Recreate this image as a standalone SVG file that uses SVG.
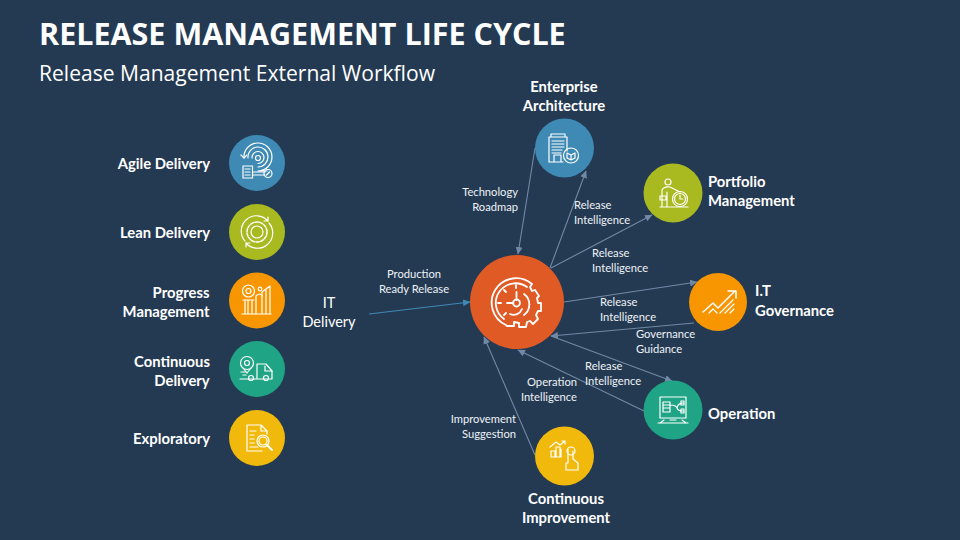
<svg xmlns="http://www.w3.org/2000/svg" width="960" height="540" viewBox="0 0 960 540">
<style>
.t{font-family:"Lato","Carlito","Liberation Sans",sans-serif;fill:#fff}
.h{font-family:"Open Sans","Liberation Sans",sans-serif;fill:#fff}
.b{font-size:14.800px;font-weight:700}
.s{font-size:11.200px;fill:#eef2f6}
.m{text-anchor:middle}.e{text-anchor:end}
.c{stroke:#7189a6;stroke-width:1.1;fill:none;marker-end:url(#a)}
.i{fill:none;stroke:#fff;stroke-width:1.2;stroke-linecap:round;stroke-linejoin:round}
</style>
<defs>
<marker id="a" markerWidth="8" markerHeight="8" refX="7" refY="4" orient="auto" markerUnits="userSpaceOnUse"><path d="M0 0.500L7.500 4L0 7.500Z" fill="#7189a6"/></marker>
<marker id="a2" markerWidth="8" markerHeight="8" refX="7" refY="4" orient="auto" markerUnits="userSpaceOnUse"><path d="M0 0.500L7.500 4L0 7.500Z" fill="#3f8ab5"/></marker>
</defs>
<rect width="960" height="540" fill="#243a53"/>
<text class="h" x="39" y="45" font-size="30.500" font-weight="700">RELEASE MANAGEMENT LIFE CYCLE</text>
<text class="h" x="39" y="81" font-size="21" textLength="396" lengthAdjust="spacingAndGlyphs">Release Management External Workflow</text>

<g id="connectors">
<path d="M369 314L470 302" stroke="#3f8ab5" stroke-width="1.100" fill="none" marker-end="url(#a2)"/>
<path class="c" d="M535 148L518 254"/>
<path class="c" d="M550 268L586 171"/>
<path class="c" d="M551 268L652 215"/>
<path class="c" d="M564 302L697 282"/>
<path class="c" d="M694 323L551 336"/>
<path class="c" d="M551 336L672 381"/>
<path class="c" d="M644 411L518 350"/>
<path class="c" d="M535 455L484 337"/>
</g>

<g id="agile">
<circle cx="257" cy="163" r="28" fill="#3f8ab5"/>
<text class="t b e" x="210" y="169">Agile Delivery</text>
<g class="i"><path d="M244 158A14 14 0 1 1 258 171H267"/><path d="M248 158A10 10 0 1 1 258 167"/><path d="M252 158A6 6 0 1 1 258 163.500"/><circle cx="258" cy="158" r="2.500"/><path d="M244 158L241 155M244 158L247 155"/><rect x="243" y="166" width="9.500" height="12"/><path d="M245 169H250M245 172H250M245 175H250M253 172H265M253 175H265"/><circle cx="268" cy="173.500" r="4"/><path d="M266.500 175L269.500 172"/></g>
</g>
<g id="lean">
<circle cx="257" cy="232" r="28" fill="#a9b920"/>
<text class="t b e" x="210" y="238">Lean Delivery</text>
<g class="i"><path d="M245 241A14.500 14.500 0 0 1 268 221M268 217V221H264"/><path d="M269 223A14.500 14.500 0 0 1 246 243M246 247V243H250"/><circle cx="257" cy="232" r="10" stroke-dasharray="3 1.500" stroke-width="1.500"/><circle cx="257" cy="232" r="6"/></g>
</g>
<g id="progress">
<circle cx="257" cy="300.500" r="28" fill="#f79600"/>
<text class="t b m" x="181" y="298">Progress</text>
<text class="t b m" x="166" y="317">Management</text>
<g class="i"><circle cx="248.500" cy="291" r="6"/><circle cx="248.500" cy="291" r="2.500"/><path d="M243 300H254M245 300V314M248 300V314M252 300V314M242 314H271M270 286L262 292V314M270 286V314M266 290V314"/><circle cx="260" cy="289" r="1.800"/><path d="M256 314V296Q260 292 262 296"/></g>
</g>
<g id="continuous">
<circle cx="257" cy="369" r="28" fill="#1fa585"/>
<text class="t b m" x="172" y="367">Continuous</text>
<text class="t b m" x="182" y="386">Delivery</text>
<g class="i"><circle cx="247" cy="363" r="6.500"/><circle cx="247" cy="363" r="2.500"/><path d="M247 373L243 368M247 373L251 368M257 364H266L272 371V379H240M257 364V378M241 372H245M243 375H246"/><path d="M265 366V371H272"/><circle cx="251" cy="378" r="2.500"/><circle cx="266" cy="378" r="2.500"/></g>
</g>
<g id="exploratory">
<circle cx="257" cy="438" r="28" fill="#f0b90b"/>
<text class="t b e" x="210" y="444">Exploratory</text>
<g class="i"><path d="M267 434V431L261 425H247V451H262M261 425V431H267"/><path d="M250 431H256M250 435H254M250 439H254M250 443H254M250 447H258"/><circle cx="263" cy="441" r="6"/><circle cx="263" cy="441" r="4"/><path d="M267 445L272 450" stroke-width="2"/></g>
</g>
<g id="it-delivery">
<text class="t m" x="329" y="308" font-size="14.500">IT</text>
<text class="t m" x="329" y="327" font-size="14.500">Delivery</text>
<text class="t s m" x="414" y="278">Production</text>
<text class="t s m" x="414" y="293">Ready Release</text>
</g>
<g id="center">
<circle cx="517" cy="302" r="47" fill="#e05a25"/>
<g fill="none" stroke="#fff" stroke-width="1.800" stroke-linejoin="round" stroke-linecap="round"><path d="M532 284A24.500 24.500 0 1 0 506 325L507 326H514V322L519 323V327H526L527 322L530 321L533 324L538 319L536 315L538 311H541V303H538L537 298L539 296L535 290L532 291L530 287Z"/><path d="M527 287A19 19 0 1 0 504 319"/><path d="M516.500 292V300M507 303H513.500M520 303A3.500 3.500 0 1 1 520 302.900M522 309A9 9 0 0 1 510 314M524 294A13 13 0 0 1 524 315"/><path d="M516 285V288M504 290L506 292M498 303H501M504 315L506 313"/></g>
</g>
<g id="enterprise">
<circle cx="564.500" cy="148" r="29.500" fill="#3f8ab5"/>
<text class="t b m" x="564" y="92">Enterprise</text>
<text class="t b m" x="564" y="111">Architecture</text>
<g class="i" stroke-width="1"><path d="M549 162V137H567V151M551 137V134H565V137M552 141H564M552 144H564M552 147H564M552 150H562M552 153H561M549 162H563M554 162V155H561V162"/><circle cx="571" cy="155.500" r="7.500"/><path d="M567 153L571 155L575 153V158L571 160L567 158ZM571 155V160"/></g>
</g>
<g id="portfolio">
<circle cx="673" cy="193" r="29.500" fill="#a9b920"/>
<text class="t b" x="708" y="187">Portfolio</text>
<text class="t b" x="708" y="206">Management</text>
<g class="i" stroke-width="1"><circle cx="668" cy="182" r="3"/><path d="M662 207V190Q664 186 670 187L680 192M667 207V192M660 207H688M660 196V200H666V196Z"/><circle cx="680" cy="199" r="7.500"/><circle cx="680" cy="199" r="5.500"/><path d="M680 195V199H683"/></g>
</g>
<g id="governance">
<circle cx="718" cy="302" r="29" fill="#f79600"/>
<text class="t b" x="755" y="296">I.T</text>
<text class="t b" x="755" y="316">Governance</text>
<g class="i"><path d="M703 312L713 303L718 308L735 291M728 291H736V298" stroke-width="1.500"/><path d="M709 313L713 309L717 313M720 313L733 300M725 313L734 304M730 313L734 309"/></g>
</g>
<g id="operation">
<circle cx="673" cy="410" r="29.500" fill="#1fa585"/>
<text class="t b" x="708" y="419">Operation</text>
<g class="i" stroke-width="1"><rect x="660" y="397" width="26" height="21"/><path d="M663 402H670V412H663ZM663 405H670M663 408H670M670 405Q676 405 677 408Q678 403 683 403M677 408Q678 411 683 411M681 401V405H684V401ZM681 409V413H684V409ZM670 420H676M658 423H688M664 420L660 423M682 420L686 423"/></g>
</g>
<g id="improvement">
<circle cx="564.500" cy="456" r="29.500" fill="#f0b90b"/>
<text class="t b m" x="566" y="504">Continuous</text>
<text class="t b m" x="566" y="523">Improvement</text>
<g class="i" stroke-width="1.100"><path d="M551 457V451H555V457ZM556 457V447H560V457ZM561 457V449M550 447L556 442L560 445L565 441M562 441H565V444"/><circle cx="571" cy="451" r="4"/><path d="M568 449V463H566V470H578V463L573 459V451"/></g>
</g>
<g id="labels">
<text class="t s e" x="518" y="196">Technology</text>
<text class="t s e" x="518" y="211">Roadmap</text>
<text class="t s" x="574" y="209">Release</text>
<text class="t s" x="574" y="224">Intelligence</text>
<text class="t s" x="592" y="257">Release</text>
<text class="t s" x="592" y="272">Intelligence</text>
<text class="t s" x="600" y="306">Release</text>
<text class="t s" x="600" y="321">Intelligence</text>
<text class="t s" x="636" y="338">Governance</text>
<text class="t s" x="636" y="353">Guidance</text>
<text class="t s" x="585" y="370">Release</text>
<text class="t s" x="585" y="385">Intelligence</text>
<text class="t s e" x="577" y="386">Operation</text>
<text class="t s e" x="577" y="401">Intelligence</text>
<text class="t s e" x="516" y="423">Improvement</text>
<text class="t s e" x="516" y="438">Suggestion</text>
</g>
</svg>
